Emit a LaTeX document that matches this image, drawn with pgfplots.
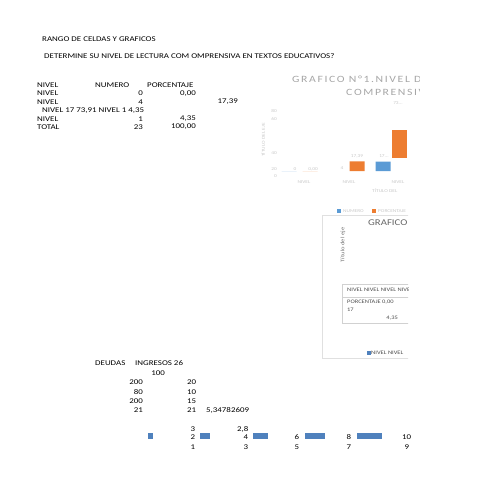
\documentclass[border=0pt]{standalone}
\usepackage{pgfplots}
\pgfplotsset{compat=1.18}
\usepackage{fontspec}
\setmainfont{Carlito}[FakeStretch=1.22]
\definecolor{cblue}{HTML}{5B9BD5}
\definecolor{corange}{HTML}{ED7D31}
\definecolor{dblue}{HTML}{4F81BD}
\definecolor{ctext}{HTML}{A6A6A6}
\definecolor{clight}{HTML}{C8C8C8}
\begin{document}
\begin{tikzpicture}
\path[use as bounding box] (0,0) rectangle (495pt,-495pt);
% ---------------- spreadsheet text ----------------
\begin{scope}[x=1pt,y=-1pt, every node/.style={inner sep=0pt, font=\fontsize{7.3}{9}\selectfont}]
\node[anchor=west] at (42,39.5) {RANGO DE CELDAS Y GRAFICOS};
\node[anchor=west] at (44,56.5) {DETERMINE SU NIVEL DE LECTURA COM OMPRENSIVA EN TEXTOS EDUCATIVOS?};
\node[anchor=west] at (37,85.5) {NIVEL};
\node[anchor=west] at (95,85.5) {NUMERO};
\node[anchor=west] at (147,85.5) {PORCENTAJE};
\node[anchor=west] at (37,93.5) {NIVEL};
\node[anchor=east] at (143,93.5) {0};
\node[anchor=east] at (196,93.5) {0,00};
\node[anchor=west] at (37,102) {NIVEL};
\node[anchor=east] at (143,102) {4};
\node[anchor=east] at (238,102) {17,39};
\node[anchor=west] at (42,110.5) {NIVEL 17 73,91 NIVEL 1 4,35};
\node[anchor=west] at (37,118.7) {NIVEL};
\node[anchor=east] at (143,118.7) {1};
\node[anchor=east] at (196,118.7) {4,35};
\node[anchor=west] at (37,126.8) {TOTAL};
\node[anchor=east] at (143,126.8) {23};
\node[anchor=east] at (196,126.8) {100,00};
% bottom block
\node[anchor=west] at (95,363) {DEUDAS};
\node[anchor=west] at (135,363) {INGRESOS 26};
\node[anchor=east] at (165,373) {100};
\node[anchor=east] at (143,382) {200};
\node[anchor=west] at (187,382) {20};
\node[anchor=east] at (143,392) {80};
\node[anchor=west] at (187,392) {10};
\node[anchor=east] at (143,401) {200};
\node[anchor=west] at (187,401) {15};
\node[anchor=east] at (143,410) {21};
\node[anchor=west] at (187,410) {21};
\node[anchor=west] at (206,410) {5,34782609};
\node at (193,429) {3};
\node[anchor=west] at (237,429) {2,8};
\node at (193,437.5) {2};
\node at (246,437.5) {4};
\node at (297,437.5) {6};
\node at (349,437.5) {8};
\node[anchor=west] at (402,437.5) {10};
\node at (193,447.5) {1};
\node at (246,447.5) {3};
\node at (297,447.5) {5};
\node at (349,447.5) {7};
\node at (407,447.5) {9};
\end{scope}
% ---------------- top chart (clipped) ----------------
\begin{scope}
\clip (0pt,0pt) rectangle (419pt,-214pt);
\begin{scope}[x=1pt,y=-1pt, every node/.style={inner sep=0pt, text=clight, font=\fontsize{4.4}{5}\selectfont}]
\node[anchor=west, text=ctext, font=\fontsize{9.6}{11}\selectfont] at (292,79) {G\,R\,A\,F\,I\,C\,O\, N\,°\,1\,.\,N\,I\,V\,E\,L\, D\,E};
\node[anchor=west, text=ctext, font=\fontsize{9.6}{11}\selectfont] at (346,92) {C\,O\,M\,P\,R\,E\,N\,S\,I\,V\,A};
\node[anchor=east] at (277,111) {80};
\node[anchor=east] at (277,119) {60};
\node[anchor=east] at (277,153) {40};
\node[anchor=east] at (277,169) {20};
\node[anchor=east] at (277,176) {0};
\node[rotate=90] at (263,140) {TÍTULO DEL EJE};
\node at (295,169) {0};
\node at (313,169) {0,00};
\node at (342,168) {4};
\node at (357,156) {17,39};
\node at (384,156) {17...};
\node at (398,103) {73...};
\node at (304,182) {NIVEL};
\node at (349,182) {NIVEL};
\node at (398,182) {NIVEL};
\node[anchor=west] at (372,191) {TÍTULO DEL};
\fill[cblue] (337,209) rectangle (341,213);
\node[anchor=west] at (343,211) {NUMERO};
\fill[corange] (372,209) rectangle (376,213);
\node[anchor=west] at (378,211) {PORCENTAJE};
\end{scope}
\begin{axis}[at={(280.5pt,-171pt)}, anchor=south west, scale only axis,
  x=47pt, y=0.555pt, xmin=-0.5, xmax=2.5, ymin=0, ymax=80, hide axis, clip=false]
\addplot[ybar, bar width=15pt, bar shift=-15pt, fill=cblue, draw=none] coordinates {(0,0) (2,17)};
\addplot[ybar, bar width=15pt, bar shift=6pt, fill=corange, draw=none] coordinates {(0,0) (1,17.39)};
\addplot[fill=corange, draw=none] coordinates {(1.87,23) (2.19,23) (2.19,73.91) (1.87,73.91)};
\end{axis}
\end{scope}
% ---------------- second chart (clipped) ----------------
\begin{scope}
\clip (0pt,-214pt) rectangle (408pt,-370pt);
\begin{scope}[x=1pt,y=-1pt, every node/.style={inner sep=0pt, font=\fontsize{5.3}{6}\selectfont, text=black!70}]
\draw[black!12, line width=0.6pt] (322,215) rectangle (440,358);
\node[anchor=west, font=\fontsize{8.8}{10}\selectfont, text=black!60] at (368,223) {GRAFICO N°1};
\node[rotate=90, font=\fontsize{5.4}{6}\selectfont, text=black!55] at (343,245) {Título del eje};
\draw[black!18, line width=0.5pt] (342,284) rectangle (440,323);
\draw[black!18, line width=0.5pt] (342,297) -- (440,297);
\node[anchor=west] at (347,290) {NIVEL NIVEL NIVEL NIVEL};
\node[anchor=west] at (347,302.5) {PORCENTAJE 0,00};
\node[anchor=west] at (347,309.5) {17};
\node[anchor=east] at (398,318) {4,35};
\fill[dblue] (367,351) rectangle (371,355);
\node[anchor=west] at (371,353) {NIVEL NIVEL};
\end{scope}
\end{scope}
% ---------------- bottom bars ----------------
\begin{axis}[at={(148pt,-439pt)}, anchor=south west, scale only axis,
  x=5pt, y=6pt, xmin=0, xmax=55, ymin=0, ymax=1, hide axis, clip=false]
\addplot[fill=dblue, draw=none] coordinates {(0,0) (1,0) (1,1) (0,1)};
\addplot[fill=dblue, draw=none] coordinates {(10.46,0) (12.46,0) (12.46,1) (10.46,1)};
\addplot[fill=dblue, draw=none] coordinates {(20.92,0) (23.92,0) (23.92,1) (20.92,1)};
\addplot[fill=dblue, draw=none] coordinates {(31.38,0) (35.38,0) (35.38,1) (31.38,1)};
\addplot[fill=dblue, draw=none] coordinates {(41.84,0) (46.84,0) (46.84,1) (41.84,1)};
\end{axis}
\end{tikzpicture}
\end{document}
